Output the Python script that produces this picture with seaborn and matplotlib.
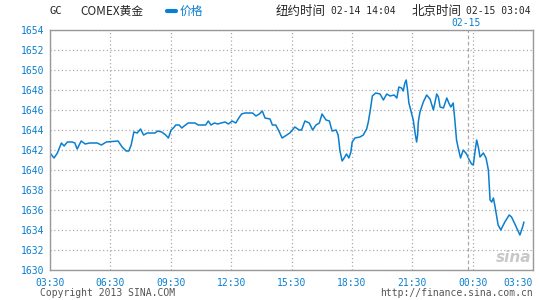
import matplotlib
matplotlib.use("Agg")
import matplotlib.pyplot as plt
import seaborn as sns
import pandas as pd

# minutes after 03:30 (Beijing time, 02-14) and COMEX gold price
minutes = [0, 12, 22, 34, 42, 52, 66, 74, 81, 93, 105, 118, 141, 153, 168, 203, 215, 227, 235, 242,
           250, 260, 270, 279, 290, 313, 321, 333, 345, 353, 361, 368, 375, 385, 393, 400, 412, 432,
           442, 464, 472, 480, 490, 500, 510, 522, 532, 543, 554, 561, 571, 581, 604, 614, 624, 633,
           641, 656, 663, 673, 681, 692, 706, 715, 730, 743, 750, 760, 773, 783, 793, 803, 811, 823,
           833, 841, 853, 859, 862, 864, 871, 877, 884, 891, 897, 901, 909, 924, 934, 944, 949, 955,
           961, 971, 984, 994, 1004, 1014, 1026, 1034, 1040, 1048, 1053, 1058, 1062, 1066, 1070,
           1076, 1083, 1088, 1093, 1096, 1098, 1103, 1113, 1123, 1133, 1143, 1148, 1153, 1158, 1163,
           1173, 1178, 1183, 1189, 1195, 1202, 1207, 1212, 1217, 1224, 1232, 1242, 1250, 1257, 1262,
           1267, 1272, 1277, 1282, 1287, 1292, 1300, 1307, 1312, 1317, 1322, 1327, 1332, 1336, 1344,
           1356, 1369, 1376, 1386, 1394, 1401, 1409, 1413]
price = [1641.7, 1641.2, 1641.7, 1642.7, 1642.4, 1642.8, 1642.8, 1642.7, 1642.1, 1642.9, 1642.6,
         1642.7, 1642.7, 1642.5, 1642.8, 1642.9, 1642.3, 1641.9, 1641.9, 1642.5, 1643.8, 1643.7,
         1644.1, 1643.5, 1643.7, 1643.7, 1643.9, 1643.8, 1643.5, 1643.2, 1644.0, 1644.2, 1644.5,
         1644.5, 1644.2, 1644.4, 1644.7, 1644.7, 1644.5, 1644.5, 1644.9, 1644.5, 1644.7, 1644.6,
         1644.7, 1644.8, 1644.6, 1644.9, 1644.7, 1645.1, 1645.6, 1645.7, 1645.7, 1645.4, 1645.6,
         1645.9, 1645.2, 1645.1, 1644.5, 1644.5, 1644.0, 1643.2, 1643.5, 1643.7, 1644.3, 1644.0,
         1644.0, 1644.9, 1644.7, 1644.0, 1644.5, 1644.7, 1645.6, 1645.0, 1644.9, 1643.9, 1644.0,
         1643.5, 1642.7, 1642.0, 1640.9, 1641.2, 1641.6, 1641.2, 1641.8, 1642.8, 1643.2, 1643.3,
         1643.5, 1644.1, 1644.8, 1646.0, 1647.4, 1647.7, 1647.6, 1647.0, 1647.6, 1647.4, 1647.5,
         1647.2, 1648.3, 1648.2, 1647.9, 1648.7, 1649.0, 1648.0, 1646.7, 1645.9, 1645.0, 1643.8,
         1642.8, 1643.5, 1644.8, 1645.8, 1646.8, 1647.5, 1647.1, 1646.0, 1646.8, 1647.6, 1647.3,
         1646.3, 1646.2, 1646.7, 1647.2, 1646.7, 1646.3, 1646.7, 1645.0, 1643.0, 1642.2, 1641.2,
         1642.0, 1641.6, 1641.0, 1640.6, 1640.5, 1641.8, 1643.0, 1642.3, 1641.3, 1641.5, 1641.7,
         1641.2, 1640.0, 1637.0, 1636.8, 1637.2, 1636.3, 1635.3, 1634.5, 1634.0, 1634.8, 1635.5,
         1635.3, 1634.6, 1634.0, 1633.5, 1634.3, 1634.8]

x_labels = ["03:30", "06:30", "09:30", "12:30", "15:30", "18:30", "21:30", "00:30", "03:30"]
y_ticks = list(range(1630, 1655, 2))
date_break = 1247  # dashed marker for 02-15

df = pd.DataFrame({"t": minutes, "price": price})

sns.set_style("white")
blue = "#0a7fcf"
mono = "DejaVu Sans Mono"
cjk = ["Noto Sans CJK SC", "DejaVu Sans"]

fig = plt.figure(figsize=(5.4, 3.0), dpi=100)
ax = fig.add_axes([50 / 540, 30 / 300, 483 / 540, 240 / 300])

sns.lineplot(data=df, x="t", y="price", color=blue, linewidth=1.1, ax=ax)

ax.set_xlim(0, 1440)
ax.set_ylim(1630, 1654)
ax.set_xticks([i * 180 for i in range(len(x_labels))])
ax.set_xticklabels(x_labels)
ax.set_yticks(y_ticks)
ax.set_xlabel("")
ax.set_ylabel("")
ax.tick_params(length=0, labelsize=7, labelcolor=blue)
ax.tick_params(axis="x", pad=6)
ax.tick_params(axis="y", pad=4)
for lab in ax.get_xticklabels() + ax.get_yticklabels():
    lab.set_family(mono)
ax.get_xticklabels()[-1].set_horizontalalignment("right")
ax.grid(True, color="#aaaaaa", linestyle=(0, (1, 2)), linewidth=0.9)
ax.axvline(date_break, color="#aaaaaa", linestyle=(0, (3, 2)), linewidth=0.9)
for s in ax.spines.values():
    s.set_color("#999999")
    s.set_linewidth(1.0)


def px(x, y):
    return x / 540, 1 - y / 300


# header
fig.text(*px(49, 11), "GC", fontsize=7.5, family=mono, va="center")
fig.text(*px(80, 11), "COMEX黄金", fontsize=8.5, family=cjk, va="center")
fig.add_artist(plt.Line2D([167 / 540, 176 / 540], [1 - 11 / 300] * 2, color=blue, linewidth=3))
fig.text(*px(180, 11), "价格", fontsize=8.5, family=cjk, color=blue, va="center")
fig.text(*px(276, 11), "纽约时间", fontsize=9, family=cjk, va="center")
fig.text(*px(331, 11), "02-14 14:04", fontsize=7, family=mono, va="center")
fig.text(*px(412, 11), "北京时间", fontsize=9, family=cjk, va="center")
fig.text(*px(466, 11), "02-15 03:04", fontsize=7, family=mono, va="center")
fig.text(*px(466, 23), "02-15", fontsize=7, family=mono, color=blue, va="center", ha="center")

# footer
fig.text(*px(40, 293), "Copyright 2013 SINA.COM", fontsize=7, family=mono, color="#555555", va="center")
fig.text(*px(533, 293), "http://finance.sina.com.cn", fontsize=7, family=mono, color="#555555",
         va="center", ha="right")
fig.text(*px(531, 258), "sina", fontsize=11, family="DejaVu Sans", style="italic", weight="bold",
         color="#bbbbbb", alpha=0.8, va="center", ha="right")

fig.savefig("out.png", dpi=100)
